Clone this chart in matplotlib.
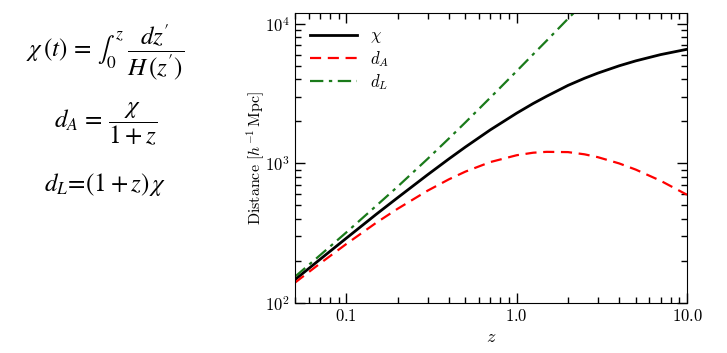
import matplotlib
matplotlib.use("Agg")
import matplotlib.pyplot as plt
import numpy as np

plt.rcParams['mathtext.fontset'] = 'cm'
plt.rcParams['font.family'] = 'serif'
plt.rcParams['font.serif'] = ['cmr10', 'DejaVu Serif']
plt.rcParams['axes.formatter.use_mathtext'] = True

# redshift grid and distances in h^-1 Mpc
z = [0.05, 0.07, 0.1, 0.15, 0.2, 0.3, 0.4, 0.5, 0.7, 1.0, 1.25, 1.5,
     2.0, 2.5, 3.0, 4.0, 5.0, 7.0, 10.0]
chi = [147, 205, 291, 432, 567, 828, 1075, 1308, 1735, 2285, 2680, 3020,
       3610, 4060, 4425, 4990, 5410, 6000, 6550]
d_A = [140, 191.6, 264.5, 375.7, 472.5, 636.9, 767.9, 872, 1020.6, 1142.5,
       1191, 1208, 1203, 1160, 1106, 998, 901.7, 750, 595.5]
d_L = [154.4, 219.4, 320.1, 496.8, 680.4, 1076, 1505, 1962, 2950, 4570,
       6030, 7550, 10830, 14210, 17700, 24950, 32460, 48000, 72050]

xticks = [0.1, 1.0, 10.0]
xticklabels = ['$0.1$', '$1.0$', '$10.0$']

fig = plt.figure(figsize=(7.27, 3.53), dpi=100)
ax = fig.add_axes([0.4058, 0.1416, 0.5392, 0.8214])

ax.plot(z, chi, color='black', lw=2.0, label=r'$\chi$')
ax.plot(z, d_A, color='red', lw=1.6, ls=(0, (5, 3)), label=r'$d_A$')
ax.plot(z, d_L, color='#1a7a1a', lw=1.6, ls=(0, (6, 2.5, 1.5, 2.5)), label=r'$d_L$')

ax.set_xscale('log')
ax.set_yscale('log')
ax.set_xlim(0.05, 10.0)
ax.set_ylim(100, 1.19e4)
ax.set_xticks(xticks)
ax.set_xticklabels(xticklabels, fontsize=12)
ax.set_yticks([100, 1000, 10000])
ax.set_yticklabels(['$10^2$', '$10^3$', '$10^4$'], fontsize=12)
ax.tick_params(which='both', direction='in', top=True, right=True)
ax.tick_params(which='major', length=7, width=1)
ax.tick_params(which='minor', length=4, width=1)
ax.set_xlabel('$z$', fontsize=13)
ax.set_ylabel(r'Distance [$h^{-1}\,$Mpc]', fontsize=11.5, labelpad=-1)

ax.legend(loc='upper left', frameon=False, fontsize=12, handlelength=2.8,
          labelspacing=0.2, borderaxespad=0.5)

# equations on the left
fig.text(0.145, 0.853, r"$\chi\,(t)\,=\,\int_0^z\;\dfrac{dz'}{H\,(z')}$",
         fontsize=18, ha='center', va='center', math_fontfamily='stix')
fig.text(0.145, 0.648, r"$d_A\,=\,\dfrac{\chi}{1+z}$",
         fontsize=18, ha='center', va='center', math_fontfamily='stix')
fig.text(0.145, 0.476, r"$d_L\!=\!(1+z)\,\chi$",
         fontsize=18, ha='center', va='center', math_fontfamily='stix')

fig.savefig('out.png', dpi=100)
